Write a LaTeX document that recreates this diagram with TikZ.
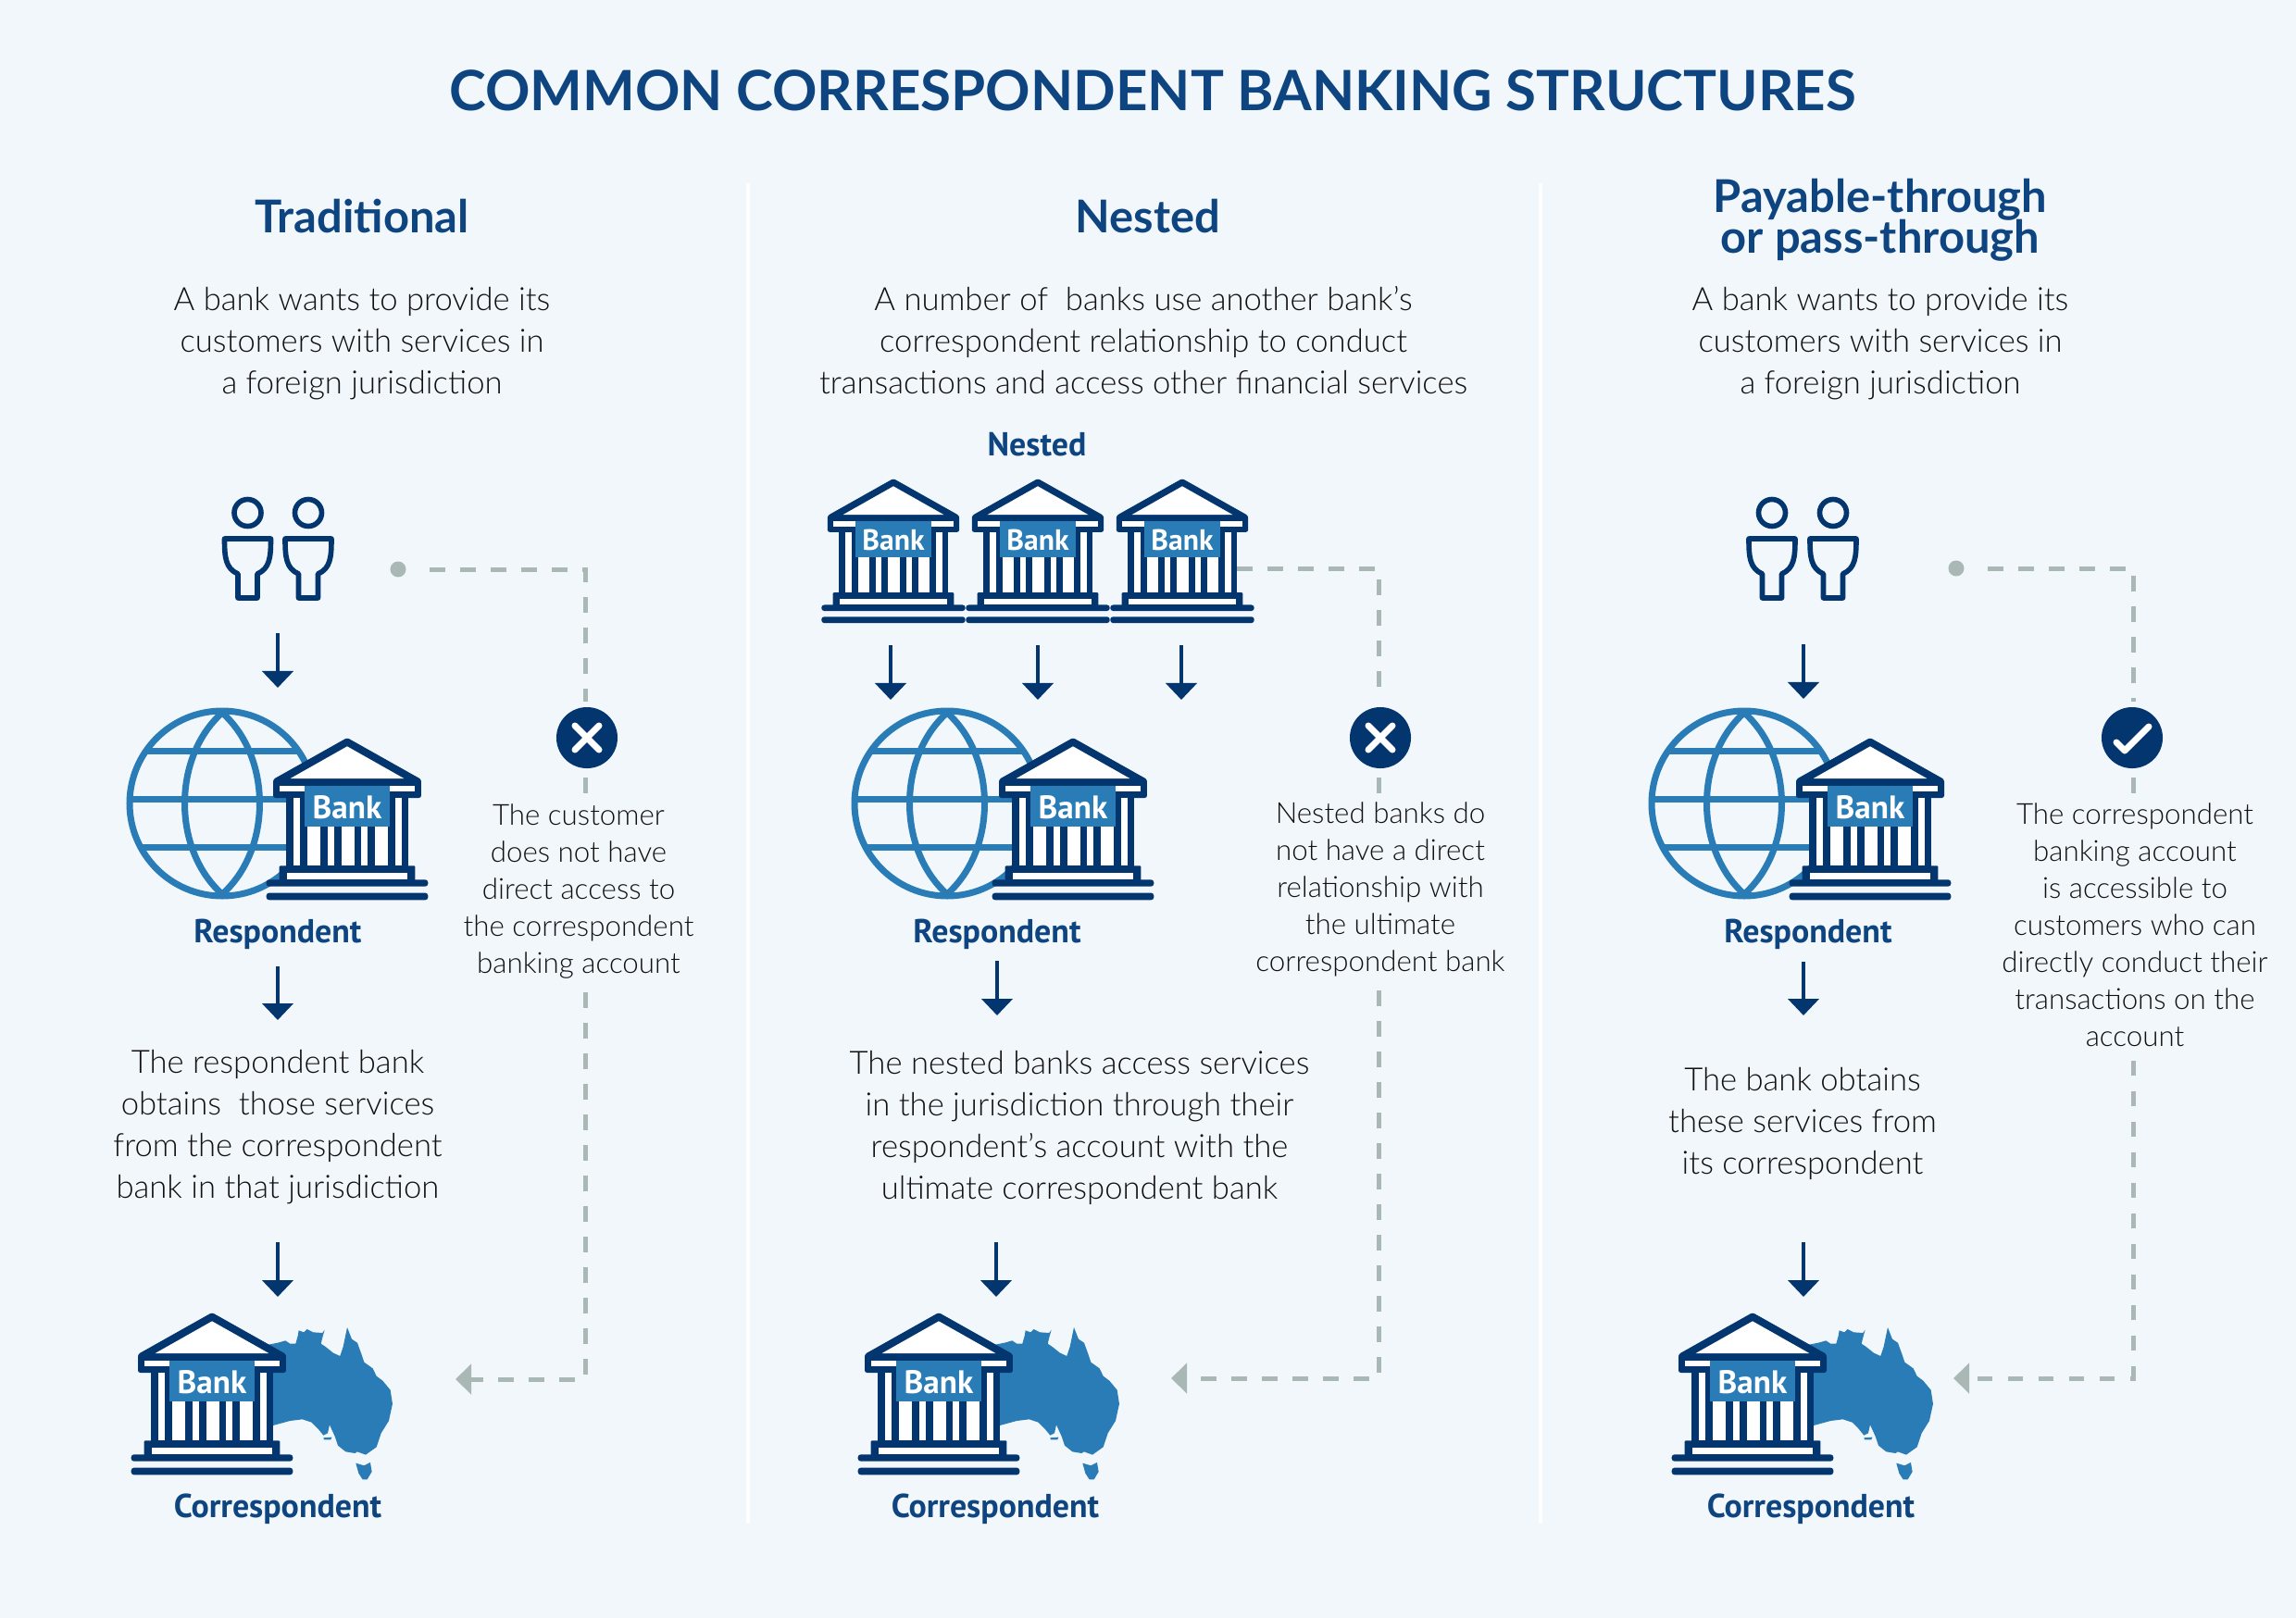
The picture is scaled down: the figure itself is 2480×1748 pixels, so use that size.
\documentclass[tikz,border=0pt]{standalone}
\usepackage{fontspec}
\usetikzlibrary{arrows.meta,calc}
\setmainfont{Open Sans}
\newfontfamily\bodyf{Lato Light}
\newfontfamily\labf{PT Sans}
\newfontfamily\headf{Lato}
\definecolor{bgc}{HTML}{F2F7FC}
\definecolor{navyc}{HTML}{03356F}
\definecolor{titlec}{HTML}{0E4580}
\definecolor{bluec}{HTML}{2A7CB6}
\definecolor{dashc}{HTML}{A9B8B5}
\definecolor{txtc}{HTML}{111111}
\tikzset{
 bodytxt/.style={inner sep=0pt,align=center,text=txtc,font=\bodyf\fontsize{9.85}{12.8}\selectfont},
 sidetxt/.style={inner sep=0pt,align=center,text=txtc,font=\bodyf\fontsize{8.9}{11.4}\selectfont},
 lab/.style={inner sep=0pt,text=titlec,font=\labf\bfseries\fontsize{10.2}{11}\selectfont},
 headtxt/.style={inner sep=0pt,align=center,text=titlec,font=\headf\bfseries\fontsize{13.9}{12.7}\selectfont},
 flow/.style={navyc,line width=0.045cm,-{Triangle[width=0.33cm,length=0.18cm]}},
 dashl/.style={dashc,line width=0.05cm,dash pattern=on 0.165cm off 0.165cm},
 dasharrow/.style={dashl,-{Triangle[width=0.32cm,length=0.17cm]}},
 badge/.style={circle,fill=navyc,minimum size=0.66cm,inner sep=0pt},
 dotn/.style={circle,fill=dashc,minimum size=0.17cm,inner sep=0pt},
 sep/.style={white,line width=0.035cm},
 bankname/.style={inner sep=0pt,text=white}
}
% #1 name, #2 x, #3 apex y, #4 scale, #5 font size
\newcommand\bankicon[5]{%
\begin{scope}[shift={(#2,#3)},scale=#4]
 \fill[navyc,rounded corners=0.25mm] (0,0)--(240,135)--(240,195)--(-240,195)--(-240,135)--cycle;
 \fill[white] (0,28)--(184,132)--(-184,132)--cycle;
 \fill[white] (-220,155) rectangle (220,175);
 \fill[navyc] (-198,190) rectangle (198,430);
 \foreach \a/\b in {-174/-152,-129/-88,-64/-43,-19/24,46/67,91/132,155/177}{\fill[white] (\a,195) rectangle (\b,415);}
 \fill[navyc,rounded corners=0.1mm] (-220,415) rectangle (220,475);
 \fill[white] (-196,438) rectangle (196,458);
 \fill[navyc,rounded corners=0.3mm] (-262,460) rectangle (262,482);
 \fill[navyc,rounded corners=0.3mm] (-262,503) rectangle (262,526);
 \fill[bluec] (-137,155) rectangle (139,288);
 \node[bankname,font=\labf\bfseries\fontsize{#5}{#5}\selectfont] (#1) at (0,225) {Bank};
\end{scope}}
% globe: x, y of centre
\newcommand\globeicon[2]{%
\begin{scope}[shift={(#1,#2)}]
 \begin{scope}
 \clip (0,0) circle (100);
 \draw[bluec,line width=0.07cm] (-110,-57)--(110,-57) (-110,-5)--(110,-5) (-110,47)--(110,47);
 \end{scope}
 \draw[bluec,line width=0.07cm] (0,0) circle (100);
 \draw[bluec,line width=0.07cm] (0,-98) .. controls (54,-50) and (54,50) .. (0,98) .. controls (-54,50) and (-54,-50) .. (0,-98);
\end{scope}}
% Australia: x, apex y of the matching bank
\newcommand\ozicon[2]{%
\begin{scope}[shift={(#1,#2)},scale=0.3333,shift={(153,6)}]
 \fill[bluec] (20,100)--(60,92)--(85,85)--(100,95)--(118,95)--(125,70)--(128,52)--(145,58)--(155,48)--(175,58)--(205,60)--(212,50)--(205,75)--(200,95)--(215,105)--(240,125)--(262,135)--(272,105)--(285,42)--(300,80)--(318,92)--(330,125)--(340,155)--(368,175)--(380,200)--(400,215)--(425,245)--(432,290)--(420,345)--(395,385)--(380,430)--(345,455)--(318,445)--(310,450)--(280,445)--(255,425)--(245,395)--(228,358)--(222,385)--(208,392)--(190,370)--(170,350)--(140,340)--(100,345)--(45,360)--(20,370)--cycle;
 \fill[bluec] (313,482)--(340,490)--(360,480)--(365,510)--(350,535)--(335,535)--(322,515)--cycle;
 \fill[bluec] (208,400)--(235,398)--(232,406)--(210,406)--cycle;
\end{scope}}
% person: head centre
\newcommand\personicon[2]{%
\begin{scope}[shift={(#1,#2)}]
 \draw[navyc,line width=0.056cm] (0,0) circle (14.5);
 \draw[navyc,line width=0.056cm,line join=round] (-25,28)--(25,28) .. controls (25,48) and (24,60) .. (10.5,66)--(10.5,92)--(-10.5,92)--(-10.5,66) .. controls (-24,60) and (-25,48) .. (-25,28)--cycle;
\end{scope}}
\newcommand\crossmark[1]{\draw[white,line width=0.07cm,line cap=round] ($(#1)+(-13,-13)$)--($(#1)+(13,13)$) ($(#1)+(-13,13)$)--($(#1)+(13,-13)$);}
\newcommand\checkmk[1]{\draw[white,line width=0.07cm,line cap=round,line join=round] ($(#1)+(-17,5)$)--($(#1)+(-8,14)$)--($(#1)+(18,-12)$);}
\begin{document}
\begin{tikzpicture}[x=0.01cm,y=-0.01cm]
\fill[bgc] (0,0) rectangle (2480,1748);
\useasboundingbox (0,0) rectangle (2480,1748);
% separators
\coordinate (s1t) at (808,198); \coordinate (s1b) at (808,1645);
\coordinate (s2t) at (1664,198); \coordinate (s2b) at (1664,1645);
\draw[sep] (s1t)--(s1b); \draw[sep] (s2t)--(s2b);
% title
\node[inner sep=0pt,text=titlec,font=\headf\bfseries\fontsize{17.07}{18}\selectfont] (title) at (1245,98) {COMMON CORRESPONDENT BANKING STRUCTURES};
% headings
\node[headtxt] (h1) at (391,234) {Traditional};
\node[headtxt] (h2) at (1240,234) {Nested};
\node[headtxt] (h3) at (2031,238) {Payable-through\\[-1.2pt]or pass-through};
% intros
\node[bodytxt] (i1) at (391,371) {A bank wants to provide its\\customers with services in\\a foreign jurisdiction};
\node[bodytxt] (i2) at (1235,368) {A number of\ \ banks use another bank’s\\correspondent relationship to conduct\\transactions and access other financial services};
\node[bodytxt] (i3) at (2031,371) {A bank wants to provide its\\customers with services in\\a foreign jurisdiction};
% column 1 icons
\personicon{267.5}{554}\personicon{333}{554}
\coordinate (p1) at (300,684);
\coordinate (g1) at (300,743);
\globeicon{240}{868}
\bankicon{b1}{375}{797}{0.3333}{10}
\node[lab] (r1) at (300,1009) {Respondent};
\coordinate (r1o) at (300,1044); \coordinate (t1i) at (300,1102);
\node[bodytxt] (m1) at (300,1218) {The respondent bank\\obtains\ \ those services\\from the correspondent\\bank in that jurisdiction};
\coordinate (m1o) at (300,1342); \coordinate (c1i) at (300,1401);
\ozicon{229}{1418}
\bankicon{k1}{229}{1418}{0.3333}{10}
\node[lab] (c1) at (300,1630) {Correspondent};
\draw[flow] (p1)--(g1); \draw[flow] (r1o)--(t1i); \draw[flow] (m1o)--(c1i);
% column 2 icons
\node[lab] (n2) at (1120,480) {Nested};
\bankicon{n2a}{965}{517}{0.2967}{9}
\bankicon{n2b}{1121}{517}{0.2967}{9}
\bankicon{n2c}{1277}{517}{0.2967}{9}
\coordinate (a1) at (962,697); \coordinate (a1e) at (962,756);
\coordinate (a2) at (1121,697); \coordinate (a2e) at (1121,756);
\coordinate (a3) at (1276,697); \coordinate (a3e) at (1276,756);
\draw[flow] (a1)--(a1e); \draw[flow] (a2)--(a2e); \draw[flow] (a3)--(a3e);
\globeicon{1023}{868}
\bankicon{b2}{1159}{797}{0.3333}{10}
\node[lab] (r2) at (1077,1009) {Respondent};
\coordinate (r2o) at (1077,1038); \coordinate (t2i) at (1077,1097);
\node[bodytxt] (m2) at (1166,1218) {The nested banks access services\\in the jurisdiction through their\\respondent’s account with the\\ultimate correspondent bank};
\coordinate (m2o) at (1076,1342); \coordinate (c2i) at (1076,1401);
\ozicon{1014}{1418}
\bankicon{k2}{1014}{1418}{0.3333}{10}
\node[lab] (c2) at (1075,1630) {Correspondent};
\draw[flow] (r2o)--(t2i); \draw[flow] (m2o)--(c2i);
% column 3 icons
\personicon{1914}{554}\personicon{1980}{554}
\coordinate (p3) at (1948,696); \coordinate (g3) at (1948,755);
\globeicon{1884}{868}
\bankicon{b3}{2020}{797}{0.3333}{10}
\node[lab] (r3) at (1953,1009) {Respondent};
\coordinate (r3o) at (1948,1039); \coordinate (t3i) at (1948,1097);
\node[bodytxt] (m3) at (1947,1214) {The bank obtains\\these services from\\its correspondent};
\coordinate (m3o) at (1948,1342); \coordinate (c3i) at (1948,1401);
\ozicon{1893}{1418}
\bankicon{k3}{1893}{1418}{0.3333}{10}
\node[lab] (c3) at (1956,1630) {Correspondent};
\draw[flow] (p3)--(g3); \draw[flow] (r3o)--(t3i); \draw[flow] (m3o)--(c3i);
% side explanations
\node[sidetxt] (e1) at (625,963) {The customer\\does not have\\direct access to\\the correspondent\\banking account};
\node[sidetxt] (e2) at (1491,961) {Nested banks do\\not have a direct\\relationship with\\the ultimate\\correspondent bank};
\node[sidetxt] (e3) at (2306,999) {The correspondent\\banking account\\is accessible to\\customers who can\\directly conduct their\\transactions on the\\account};
\node[badge] (q1) at (634,797) {};
\node[badge] (q2) at (1491,797) {};
\node[badge] (q3) at (2303,797) {};
\crossmark{q1}\crossmark{q2}\checkmk{q3}
% dashed links
\node[dotn] (d1) at (430,615) {};
\node[dotn] (d3) at (2113,614) {};
\coordinate (d2) at (1336,614);
\coordinate (v1) at (632,797); \coordinate (v2) at (1489,797); \coordinate (v3) at (2304,797);
\coordinate (z1) at (492,1490); \coordinate (z2) at (1265,1489); \coordinate (z3) at (2110,1489);
\draw[dashl,shorten <=0.25cm,shorten >=0.39cm] (d1) -| (v1);
\draw[dashl,shorten >=0.39cm] (d2) -| (v2);
\draw[dashl,shorten <=0.25cm,shorten >=0.39cm] (d3) -| (v3);
\draw[dashl,shorten <=0.43cm,shorten >=0.03cm] (v1) -- (v1 |- e1.north);
\draw[dashl,shorten <=0.43cm,shorten >=0.03cm] (v2) -- (v2 |- e2.north);
\draw[dashl,shorten <=0.43cm,shorten >=0.03cm] (v3) -- (v3 |- e3.north);
\draw[dasharrow,shorten <=0.14cm] (v1 |- e1.south) |- (z1);
\draw[dasharrow,shorten <=0.14cm] (v2 |- e2.south) |- (z2);
\draw[dasharrow,shorten <=0.14cm] (v3 |- e3.south) |- (z3);
\end{tikzpicture}
\end{document}
